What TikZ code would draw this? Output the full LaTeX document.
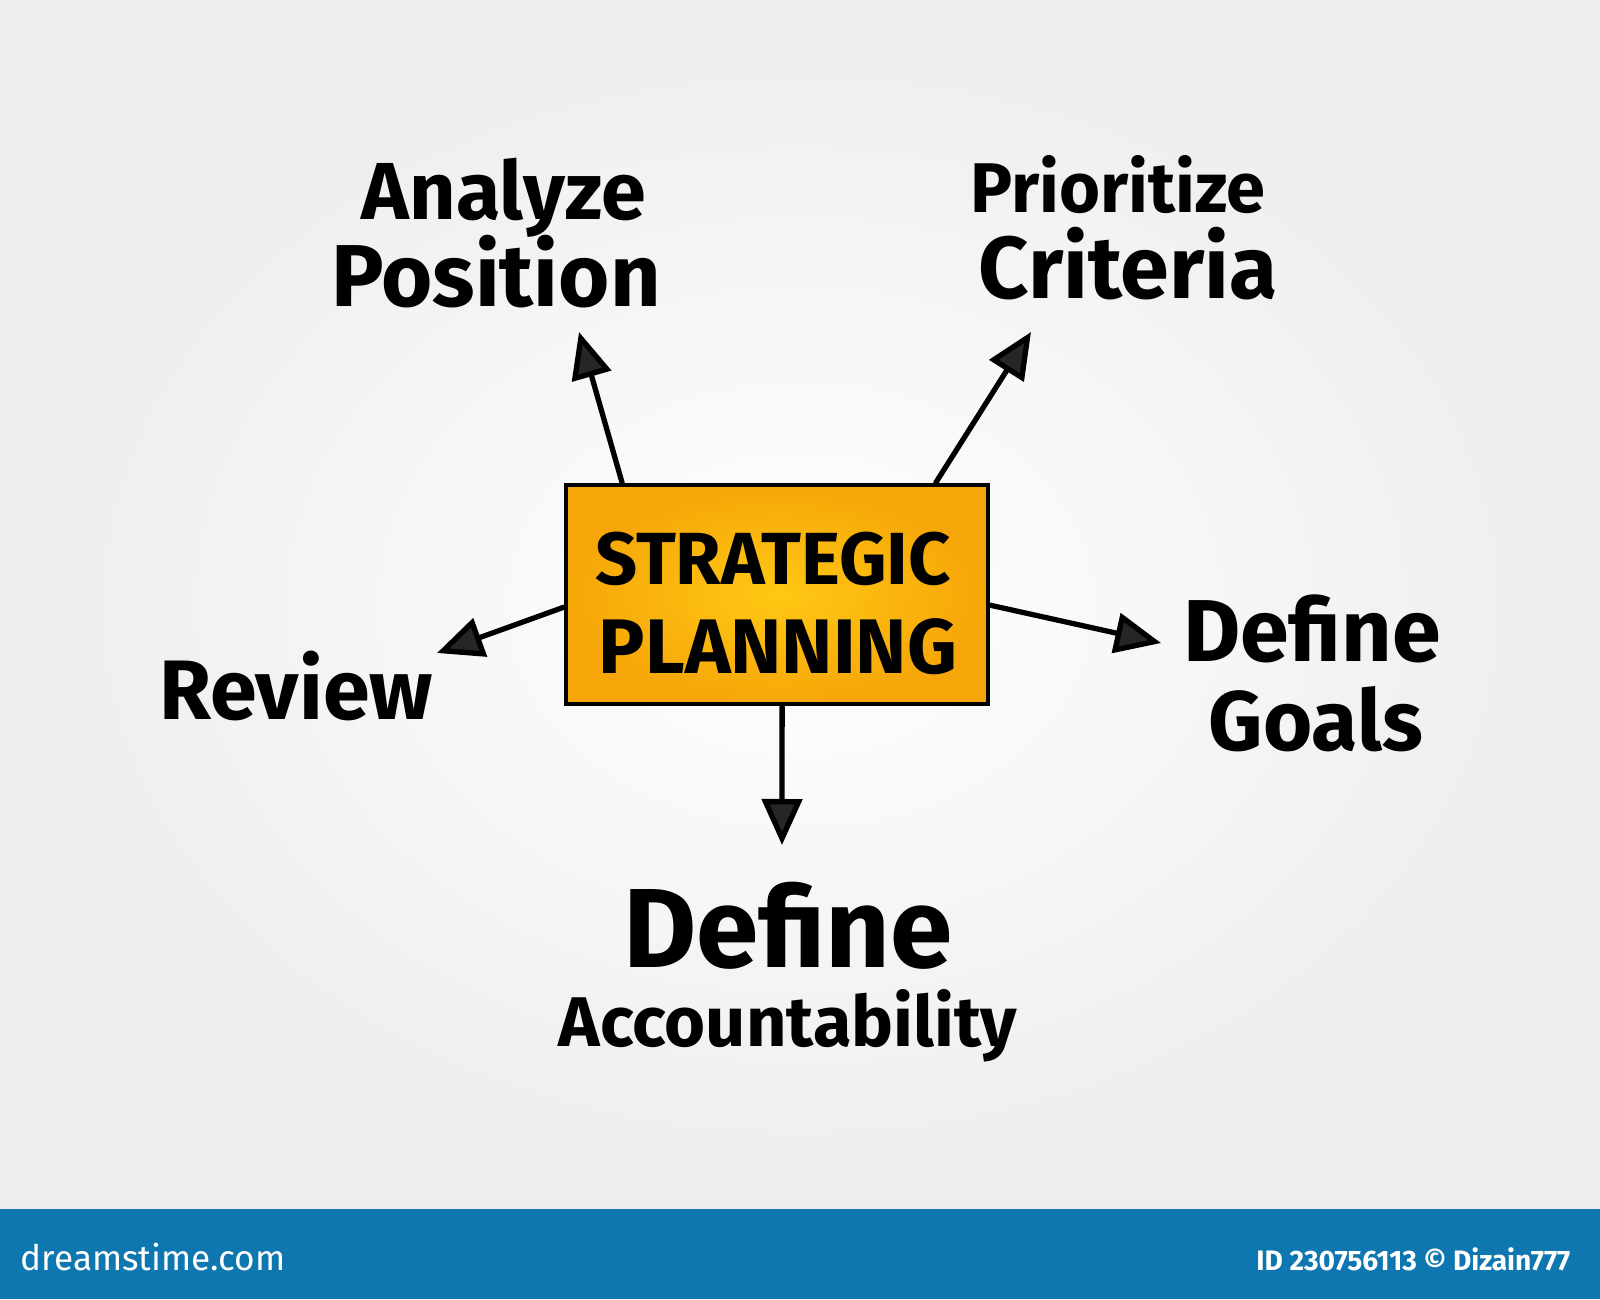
\documentclass[tikz,border=0pt]{standalone}
\usepackage{fontspec}
\setmainfont{Fira Sans}
\usetikzlibrary{arrows.meta}
\usetikzlibrary{calc}

\definecolor{stockblue}{RGB}{14,119,176}
\definecolor{boxinner}{RGB}{255,200,20}
\definecolor{boxouter}{RGB}{246,166,8}

\tikzset{
  handtext/.style={anchor=base, inner sep=0pt},
  sketcharrow/.style={line width=1.5pt, line cap=round, -{Triangle[length=4.6mm, width=4mm, fill=black!85]}},
}

\begin{document}
\begin{tikzpicture}[x=0.01cm, y=-0.01cm]
        \useasboundingbox (0,0) rectangle (1600,1299);
        \shade [inner color=white, outer color=black!7] (0,0) rectangle (1600,1209);
        \fill [stockblue] (0,1209) rectangle (1600,1299);

        \node [draw, line width=1.3pt, shade, inner color=boxinner, outer color=boxouter,
               minimum width=4.22cm, minimum height=2.19cm] (box) at (777,594.5) {};
        \node [handtext, font=\fontsize{21}{21}\selectfont\bfseries] (strat) at (773,584) {STRATEGIC};
        \node [handtext, font=\fontsize{22}{22}\selectfont\bfseries] (plan) at (778,673) {PLANNING};

        \node [handtext, font=\fontsize{23}{23}\selectfont\bfseries] (analyze) at (504,219) {Analyze};
        \node [handtext, font=\fontsize{25}{25}\selectfont\bfseries] (position) at (496,306) {Position};

        \node [handtext, font=\fontsize{20}{20}\selectfont\bfseries] (prior) at (1118,212) {Prioritize};
        \node [handtext, font=\fontsize{25}{25}\selectfont\bfseries] (criteria) at (1128,298) {Criteria};

        \node [handtext, font=\fontsize{24}{24}\selectfont\bfseries] (review) at (296,719) {Review};

        \node [handtext, font=\fontsize{25}{25}\selectfont\bfseries] (dgoal) at (1312,661) {Define};
        \node [handtext, font=\fontsize{24}{24}\selectfont\bfseries] (goals) at (1316,750) {Goals};

        \node [handtext, font=\fontsize{32}{32}\selectfont\bfseries] (dacc) at (788,967) {Define};
        \node [handtext, font=\fontsize{20}{20}\selectfont\bfseries] (account) at (788,1046) {Accountability};

        % arrow tips
        \coordinate (tipAnalyze) at (579,332);
        \coordinate (tipPrior) at (1031,332);
        \coordinate (tipReview) at (437,653);
        \coordinate (tipGoals) at (1161,643);
        \coordinate (tipAcc) at (782,845);

        \draw [sketcharrow] ($(box.north west)!0.137!(box.north east)$) -- (tipAnalyze);
        \draw [sketcharrow] ($(box.north west)!0.872!(box.north east)$) -- (tipPrior);
        \draw [sketcharrow] ($(box.north west)!0.557!(box.south west)$) -- (tipReview);
        \draw [sketcharrow] ($(box.north east)!0.548!(box.south east)$) -- (tipGoals);
        \draw [sketcharrow] ($(box.south west)!0.512!(box.south east)$) -- (tipAcc);

        \node [anchor=base west, inner sep=0pt, text=white, font=\fontsize{10}{10}\selectfont] (site) at (20,1270) {dreamstime.com};
        \node [anchor=base east, inner sep=0pt, text=white, font=\fontsize{8}{8}\selectfont\bfseries] (credit) at (1571,1270) {ID 230756113 © Dizain777};
\end{tikzpicture}
\end{document}
